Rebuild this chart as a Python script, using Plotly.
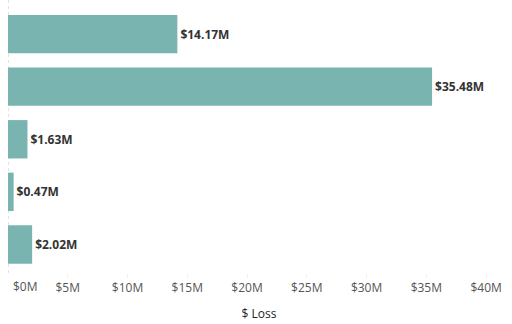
import plotly.graph_objects as go

# Loss by category (millions of dollars), top to bottom
categories = ["Category 1", "Category 2", "Category 3", "Category 4", "Category 5"]
loss_musd = [14.17, 35.48, 1.63, 0.47, 2.02]
tick_vals = [0, 5, 10, 15, 20, 25, 30, 35, 40]
tick_text = ["$0M", "$5M", "$10M", "$15M", "$20M", "$25M", "$30M", "$35M", "$40M"]

bar_color = "#7ab4b1"
font_family = "Open Sans, Noto Sans, sans-serif"

fig = go.Figure(
    go.Bar(
        x=loss_musd,
        y=categories,
        orientation="h",
        marker=dict(color=bar_color, line=dict(width=0)),
        text=[f"<b>${v:.2f}M</b>" for v in loss_musd],
        textposition="outside",
        textfont=dict(family=font_family, size=12, color="#333333"),
        cliponaxis=False,
    )
)

# the first tick label is nudged inside the plot so it is not cut at the left edge
fig.add_annotation(
    x=tick_vals[0],
    xref="x",
    y=0,
    yref="paper",
    yanchor="top",
    yshift=-3,
    xanchor="left",
    xshift=3,
    text=tick_text[0],
    showarrow=False,
    font=dict(family=font_family, size=12, color="#555555"),
)

fig.update_layout(
    width=512,
    height=324,
    margin=dict(l=8, r=2, t=0, b=51),
    paper_bgcolor="white",
    plot_bgcolor="white",
    bargap=0.27,
    showlegend=False,
    font=dict(family=font_family, color="#555555"),
    xaxis=dict(
        range=[0, 42],
        tickvals=tick_vals[1:],
        ticktext=tick_text[1:],
        showgrid=False,
        zeroline=False,
        showline=False,
        ticks="outside",
        ticklen=4,
        tickcolor="#f0f0f0",
        tickfont=dict(size=12, color="#555555"),
        title=dict(text="$ Loss", font=dict(size=12, color="#222222"), standoff=14),
    ),
    yaxis=dict(
        categoryorder="array",
        categoryarray=categories,
        range=[4.543, -0.648],
        showticklabels=False,
        showgrid=False,
        zeroline=False,
        showline=False,
        ticks="",
    ),
    shapes=[
        dict(
            type="line",
            xref="x",
            yref="paper",
            x0=0,
            x1=0,
            y0=0,
            y1=1,
            line=dict(color="#c8c8c8", width=1, dash="dot"),
            layer="below",
        )
    ],
)

fig.write_html("out.html")
